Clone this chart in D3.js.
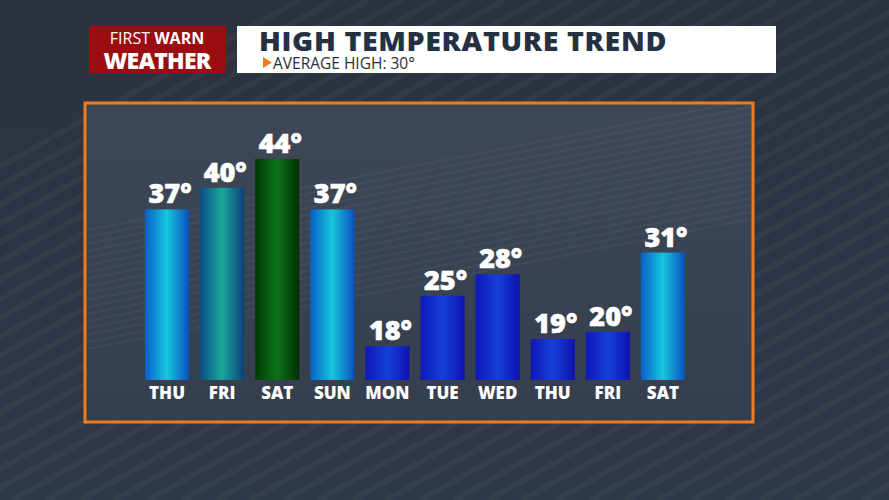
<!DOCTYPE html>
<html><head><meta charset="utf-8">
<script src="https://cdn.jsdelivr.net/npm/d3@7"></script>
<style>body{margin:0;background:#2c3442;}svg{display:block;}</style>
</head><body>
<script>
var days = ["THU","FRI","SAT","SUN","MON","TUE","WED","THU","FRI","SAT"];
var highs = [37, 40, 44, 37, 18, 25, 28, 19, 20, 31];
var styles = ["cyan","teal","green","cyan","blue","blue","blue","blue","blue","cyan"];

var W = 889, H = 500;
var svg = d3.select("body").append("svg").attr("width", W).attr("height", H);
var defs = svg.append("defs");

// background
var bg = defs.append("linearGradient").attr("id","bg").attr("x1",0).attr("y1",0).attr("x2",0).attr("y2",1);
bg.append("stop").attr("offset","0%").attr("stop-color","#2a3240");
bg.append("stop").attr("offset","100%").attr("stop-color","#2f3846");
svg.append("rect").attr("width",W).attr("height",H).attr("fill","url(#bg)");
var stripes = svg.append("g").attr("stroke","#ffffff").attr("stroke-opacity",0.035).attr("stroke-width",6);
for (var s = -600; s < 1400; s += 34) {
  stripes.append("line").attr("x1",s).attr("y1",H).attr("x2",s+900).attr("y2",0);
}

// panel
var pg = defs.append("linearGradient").attr("id","panel").attr("x1",0).attr("y1",0).attr("x2",0).attr("y2",1);
pg.append("stop").attr("offset","0%").attr("stop-color","#3e4756");
pg.append("stop").attr("offset","100%").attr("stop-color","#353e4c");
svg.append("rect").attr("x",85).attr("y",103).attr("width",668).attr("height",319)
  .attr("fill","url(#panel)").attr("stroke","#f07a22").attr("stroke-width",3);
svg.append("clipPath").attr("id","pc").append("rect").attr("x",87).attr("y",105).attr("width",664).attr("height",315);
var ps = svg.append("g").attr("clip-path","url(#pc)").attr("stroke","#ffffff").attr("stroke-opacity",0.045).attr("stroke-width",2);
for (var k = 0; k < 18; k++) {
  ps.append("line").attr("x1",87).attr("y1",230 + k*7).attr("x2",751).attr("y2",100 + k*7);
}

// header
var font = "Open Sans, sans-serif";
svg.append("rect").attr("x",89).attr("y",26).attr("width",137).attr("height",47).attr("fill","#9b0d10");
svg.append("text").attr("x",157).attr("y",44).attr("text-anchor","middle").attr("fill","#fff")
  .attr("font-family",font).attr("font-size",16)
  .html('FIRST <tspan font-weight="bold">WARN</tspan>');
svg.append("text").attr("x",157).attr("y",69).attr("text-anchor","middle").attr("fill","#fff")
  .attr("font-family",font).attr("font-weight","800").attr("font-size",23).attr("letter-spacing",-0.8)
  .text("WEATHER");
svg.append("rect").attr("x",237).attr("y",26).attr("width",539).attr("height",47).attr("fill","#fff");
svg.append("text").attr("x",259).attr("y",51).attr("fill","#253141")
  .attr("font-family",font).attr("font-weight","800").attr("font-size",27).attr("letter-spacing",0.6)
  .attr("textLength",408).attr("lengthAdjust","spacingAndGlyphs")
  .text("HIGH TEMPERATURE TREND");
svg.append("path").attr("d","M263,57 L272,62.5 L263,68 Z").attr("fill","#f07a22");
svg.append("text").attr("x",273).attr("y",69).attr("fill","#253141")
  .attr("font-family",font).attr("font-size",15.5)
  .text("AVERAGE HIGH: 30°");

// gradients for bars
var grads = {
  cyan: ["#0a5fc8","#16c6dc","#0a4fbf"],
  teal: ["#0b4d86","#1aa79a","#0b3f7c"],
  green: ["#013a07","#0d7318","#012f05"],
  blue: ["#0f17b8","#1540d8","#0d12b0"]
};
Object.keys(grads).forEach(function (k) {
  var g = defs.append("linearGradient").attr("id","g-"+k).attr("x1",0).attr("x2",1).attr("y1",0).attr("y2",0);
  g.append("stop").attr("offset","0%").attr("stop-color",grads[k][0]);
  g.append("stop").attr("offset","50%").attr("stop-color",grads[k][1]);
  g.append("stop").attr("offset","100%").attr("stop-color",grads[k][2]);
});

var x = d3.scaleBand().domain(d3.range(days.length)).range([139.5, 690.5]).paddingInner(0.2).paddingOuter(0.1);
var y = d3.scaleLinear().domain([13.3, 44]).range([380, 159]);

var g = svg.append("g");
g.selectAll("rect.bar").data(highs).enter().append("rect")
  .attr("class","bar")
  .attr("x", function (d, i) { return x(i); })
  .attr("y", function (d) { return y(d); })
  .attr("width", x.bandwidth())
  .attr("height", function (d) { return y(13.3) - y(d); })
  .attr("fill", function (d, i) { return "url(#g-" + styles[i] + ")"; });

g.selectAll("text.val").data(highs).enter().append("text")
  .attr("class","val")
  .attr("x", function (d, i) { return x(i) + x.bandwidth()/2 + 3; })
  .attr("y", function (d) { return y(d) - 6; })
  .attr("text-anchor","middle").attr("fill","#fff")
  .attr("font-family",font).attr("font-weight","800").attr("font-size",27)
  .attr("stroke","#fff").attr("stroke-width",0.6)
  .text(function (d) { return d + "°"; });

g.selectAll("text.day").data(days).enter().append("text")
  .attr("class","day")
  .attr("x", function (d, i) { return x(i) + x.bandwidth()/2; })
  .attr("y", 399)
  .attr("text-anchor","middle").attr("fill","#fff")
  .attr("font-family",font).attr("font-weight","800").attr("font-size",17)
  .text(function (d) { return d; });
</script>
</body></html>
